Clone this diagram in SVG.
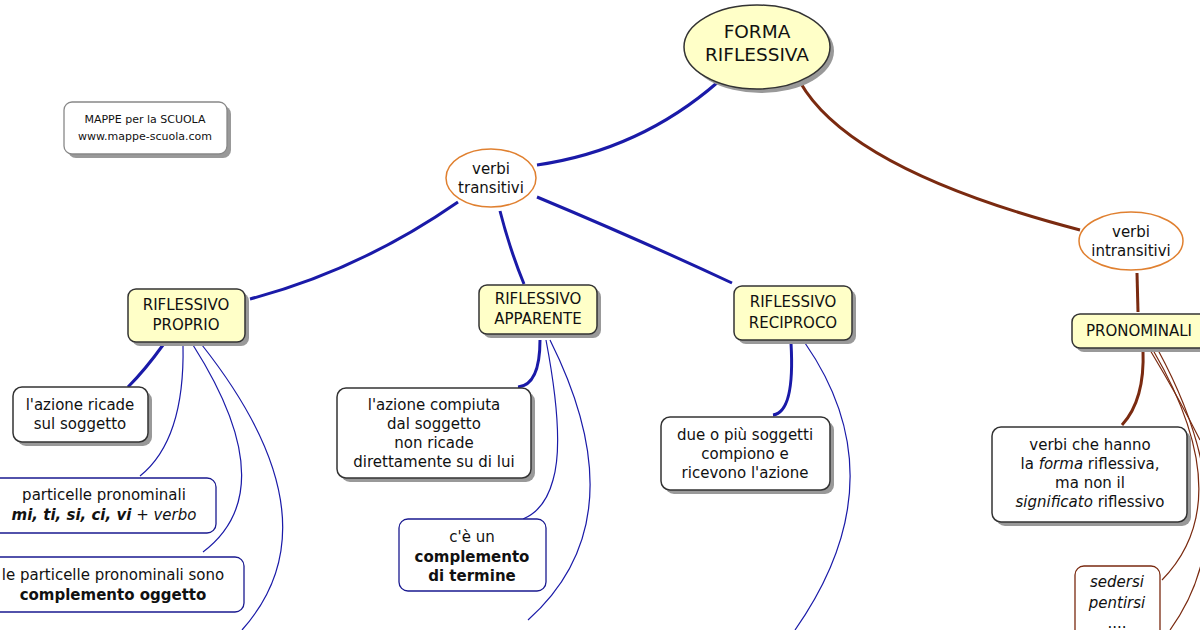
<svg xmlns="http://www.w3.org/2000/svg" width="1200" height="630" viewBox="0 0 1200 630">
<defs>
<style>
text{font-family:"DejaVu Sans",Verdana,sans-serif;font-size:15px;fill:#111;text-anchor:middle}
text.big{font-size:18.5px}
text.sm{font-size:11px}
.b{font-weight:bold}.i{font-style:italic}
.y{fill:#ffffc8;stroke:#333;stroke-width:1.5}
.w{fill:#fff;stroke:#333;stroke-width:1.5}
.bl{fill:#fff;stroke:#1a1a90;stroke-width:1.3}
.br{fill:#fff;stroke:#7a2a10;stroke-width:1.3}
.g{fill:#fff;stroke:#888;stroke-width:1.3}
.o{fill:#fff;stroke:#e08030;stroke-width:1.5}
.sh{fill:#999}
.tb{fill:none;stroke:#1a1aa8;stroke-width:3}
.nb{fill:none;stroke:#1a1aa8;stroke-width:1.2}
.tr{fill:none;stroke:#7a2a10;stroke-width:3}
.nr{fill:none;stroke:#7a2a10;stroke-width:1.2}
</style>
</defs>
<rect width="1200" height="630" fill="#fff"/>
<g id="connectors">
<path class="tb" d="M718,82 Q640,150 537,165"/>
<path class="tb" d="M458,202 Q360,270 250,299"/>
<path class="tb" d="M500,211 Q510,250 524,284"/>
<path class="tb" d="M537,197 Q640,240 732,283"/>
<path class="tb" d="M163,345 Q145,370 128,387"/>
<path class="tb" d="M540,340 Q540,385 518,387"/>
<path class="tb" d="M791,343 Q795,412 773,415"/>
<path class="nb" d="M183,345 Q185,440 140,476"/>
<path class="nb" d="M193,345 Q285,490 203,552"/>
<path class="nb" d="M202,345 Q340,520 242,630"/>
<path class="nb" d="M546,340 Q565,440 553,480 Q545,510 523,519"/>
<path class="nb" d="M550,340 Q640,520 528,620"/>
<path class="nb" d="M805,343 Q900,480 795,630"/>
<path class="tr" d="M800,82 Q850,170 1080,230"/>
<path class="tr" d="M1137,273 L1138,312"/>
<path class="tr" d="M1143,350 Q1145,400 1122,425"/>
<path class="nr" d="M1150,350 Q1180,400 1200,440"/>
<path class="nr" d="M1153,350 Q1240,500 1162,580"/>
<path class="nr" d="M1158,350 Q1250,520 1170,630"/>
</g>
<g id="forma"><ellipse class="sh" cx="761" cy="51" rx="73" ry="42"/><ellipse class="y" cx="757" cy="47" rx="73" ry="42"/><text class="big" x="757" y="38">FORMA</text><text class="big" x="757" y="61">RIFLESSIVA</text></g>
<g id="mappe"><rect class="sh" x="68" y="106" width="163" height="52" rx="8"/><rect class="g" x="64" y="102" width="163" height="52" rx="8"/><text class="sm" x="145" y="123">MAPPE per la SCUOLA</text><text class="sm" x="145" y="140">www.mappe-scuola.com</text></g>
<g id="transitivi"><ellipse class="o" cx="491" cy="178" rx="45" ry="29"/><text x="491" y="174">verbi</text><text x="491" y="193">transitivi</text></g>
<g id="intransitivi"><ellipse class="o" cx="1131" cy="241" rx="52" ry="29"/><text x="1131" y="237">verbi</text><text x="1131" y="256">intransitivi</text></g>
<g id="proprio"><rect class="sh" x="132" y="293" width="117" height="53" rx="8"/><rect class="y" x="128" y="289" width="117" height="53" rx="8"/><text x="186" y="310">RIFLESSIVO</text><text x="186" y="330">PROPRIO</text></g>
<g id="apparente"><rect class="sh" x="483" y="289" width="118" height="49" rx="8"/><rect class="y" x="479" y="285" width="118" height="49" rx="8"/><text x="538" y="304">RIFLESSIVO</text><text x="538" y="324">APPARENTE</text></g>
<g id="reciproco"><rect class="sh" x="738" y="290" width="118" height="54" rx="8"/><rect class="y" x="734" y="286" width="118" height="54" rx="8"/><text x="793" y="307">RIFLESSIVO</text><text x="793" y="328">RECIPROCO</text></g>
<g id="pronominali"><rect class="sh" x="1076" y="318" width="135" height="34" rx="8"/><rect class="y" x="1072" y="314" width="135" height="34" rx="8"/><text x="1139" y="336">PRONOMINALI</text></g>
<g id="ricade"><rect class="sh" x="17" y="391" width="135" height="55" rx="9"/><rect class="w" x="13" y="387" width="135" height="55" rx="9"/><text x="80" y="410">l'azione ricade</text><text x="80" y="429">sul soggetto</text></g>
<g id="particelle"><rect class="bl" x="-10" y="478" width="226" height="55" rx="9"/><text x="104" y="500">particelle pronominali</text><text x="104" y="520"><tspan class="b i">mi, ti, si, ci, vi</tspan><tspan class="i">  + verbo</tspan></text></g>
<g id="oggetto"><rect class="bl" x="-10" y="557" width="254" height="55" rx="9"/><text x="113" y="580">le particelle pronominali sono</text><text x="113" y="600" class="b">complemento oggetto</text></g>
<g id="compiuta"><rect class="sh" x="341" y="392" width="194" height="90" rx="9"/><rect class="w" x="337" y="388" width="194" height="90" rx="9"/><text x="434" y="410">l'azione compiuta</text><text x="434" y="429">dal soggetto</text><text x="434" y="448">non ricade</text><text x="434" y="467">direttamente su di lui</text></g>
<g id="termine"><rect class="bl" x="399" y="519" width="147" height="72" rx="9"/><text x="472" y="542">c'è un</text><text x="472" y="562" class="b">complemento</text><text x="472" y="581" class="b">di termine</text></g>
<g id="due"><rect class="sh" x="665" y="421" width="169" height="73" rx="9"/><rect class="w" x="661" y="417" width="169" height="73" rx="9"/><text x="745" y="440">due o più soggetti</text><text x="745" y="459">compiono e</text><text x="745" y="478">ricevono l'azione</text></g>
<g id="verbiche"><rect class="sh" x="996" y="431" width="195" height="95" rx="9"/><rect class="w" x="992" y="427" width="195" height="95" rx="9"/><text x="1090" y="450">verbi che hanno</text><text x="1090" y="469">la <tspan class="i">forma</tspan>  riflessiva,</text><text x="1090" y="488">ma non il</text><text x="1090" y="507"><tspan class="i">significato</tspan>  riflessivo</text></g>
<g id="sedersi"><rect class="br" x="1075" y="566" width="85" height="80" rx="9"/><text x="1117" y="587" class="i">sedersi</text><text x="1117" y="608" class="i">pentirsi</text><text x="1117" y="628">....</text></g>
</svg>
